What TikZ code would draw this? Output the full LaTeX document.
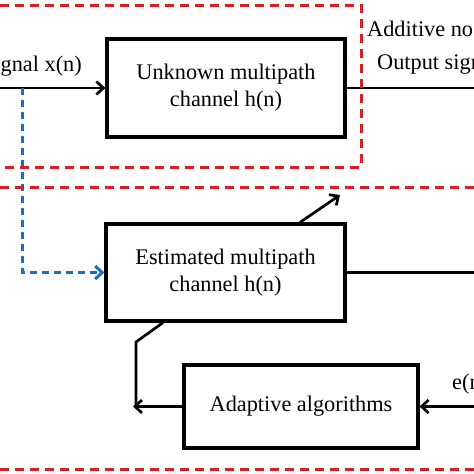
\documentclass[tikz,border=0pt]{standalone}
\usepackage{fontspec}
\setmainfont{Liberation Serif}
\usetikzlibrary{arrows.meta,scopes}
\definecolor{dred}{RGB}{214,32,39}
\definecolor{dblue}{RGB}{28,110,186}

\begin{document}
\begin{tikzpicture}[x=1pt,y=-1pt,
        blk/.style={rectangle,draw=black,line width=3.2pt,align=center,inner sep=0pt,font=\fontsize{22.3}{27}\selectfont},
        lbl/.style={inner sep=0pt,font=\fontsize{22.3}{27}\selectfont},
        sig/.style={line width=2.7pt},
        reddash/.style={draw=dred,line width=3pt,dash pattern=on 9pt off 6pt},
        bluedash/.style={draw=dblue,line width=3pt,dash pattern=on 7pt off 5pt},
        >={Straight Barb[length=7pt,width=13pt]}]
        \useasboundingbox (0,0) rectangle (474,474);
        \clip (0,0) rectangle (474,474);
        \node[blk,minimum width=238pt,minimum height=98pt] (unk) at (226,88) {Unknown multipath\\channel h(n)};
        \node[blk,minimum width=239pt,minimum height=97pt] (est) at (225.5,272.5) {Estimated multipath\\channel h(n)};
        \node[blk,minimum width=234pt,minimum height=83pt] (adp) at (301,406.5) {Adaptive algorithms};
        \node[lbl,anchor=east] (inl) at (82,66) {gnal x(n)};
        \node[lbl,anchor=west] (nse) at (367,29) {Additive no};
        \node[lbl,anchor=west] (outl) at (377,65) {Output sign};
        \node[lbl,anchor=west] (err) at (452,384) {e(n};
        \coordinate (in) at (0,88);
        \coordinate (tap) at (22,88);
        \coordinate (out1) at (474,88);
        \coordinate (out2) at (474,272.5);
        \coordinate (ein) at (474,406.5);
        \coordinate (upd) at (340,195);
        \coordinate (bend) at (136,342);
        \coordinate (fb) at (133,406.5);
        {[sig]
        \draw[->] (in) -- (unk.west);
        \draw (unk.east) -- (out1);
        \draw (est.east) -- (out2);
        \draw[->] ([xshift=74.5pt]est.north) -- (upd);
        \draw ([xshift=-62.5pt]est.south) -- (bend) -- (bend |- fb);
        \draw[->] (adp.west) -- (fb);
        \draw[->] (ein) -- (adp.east);
        }
        \draw[bluedash,->] (tap) |- (est.west);
        \draw[reddash] (0,5) -- (361,5) -- (361,167) -- (0,167);
        \draw[reddash] (0,187) -- (474,187);
        \draw[reddash] (0,469) -- (474,469);
    \end{tikzpicture}
\end{document}
